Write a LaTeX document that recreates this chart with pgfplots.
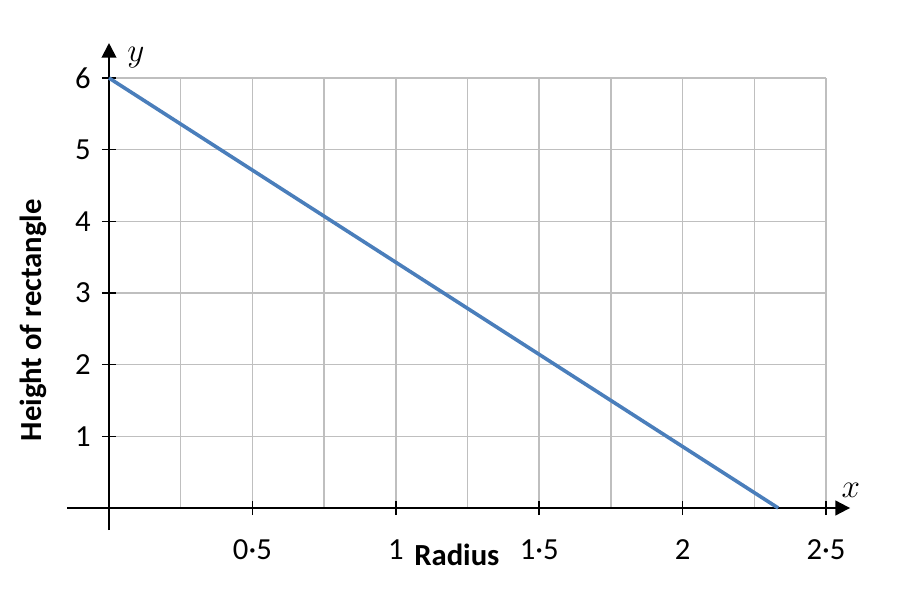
\documentclass[border=0pt]{standalone}
\usepackage{pgfplots}
\pgfplotsset{compat=1.18}
\usepackage{fontspec}
\setmainfont{Carlito}
\usetikzlibrary{arrows.meta}

\definecolor{lineblue}{RGB}{74,126,187}
\definecolor{gridgray}{RGB}{191,191,191}

\begin{document}
\begin{tikzpicture}
  % whole picture: 914 x 610 px at 0.75pt per px, axis box corner at origin
  \useasboundingbox (-81.75pt,-76.5pt) rectangle (603.75pt,381pt);
  \begin{axis}[
      at={(0,0)}, anchor=south west,
      scale only axis,
      width=537.75pt, height=322.5pt,
      xmin=0, xmax=2.5, ymin=0, ymax=6,
      clip=false,
      axis line style={draw=none},
      xtick={0.5,1,1.5,2,2.5},
      xticklabels={0·5,1,1·5,2,2·5},
      minor xtick={0.25,0.75,1.25,1.75,2.25},
      ytick={1,2,3,4,5,6},
      yticklabels={1,2,3,4,5,6},
      xtick pos=bottom, ytick pos=left,
      tick align=center,
      major tick length=10.5pt,
      minor tick length=0pt,
      tick style={black, line width=1.1pt},
      grid=both,
      major grid style={gridgray, line width=1.1pt},
      minor grid style={gridgray, line width=1.1pt},
      tick label style={font=\fontsize{23}{27}\selectfont, text=black},
      xticklabel style={anchor=center, yshift=-26pt},
      yticklabel style={anchor=east, xshift=-5pt},
    ]
    % axes with arrows
    \draw[black, line width=1.5pt, -{Triangle[length=11pt,width=11pt]}]
      (axis cs:-0.1464,0) -- (axis cs:2.584,0);
    \draw[black, line width=1.5pt, -{Triangle[length=11pt,width=11pt]}]
      (axis cs:0,-0.307) -- (axis cs:0,6.488);

    \addplot[lineblue, line width=2.7pt] coordinates {
      (0,6)
      (2.3333,0)
    };

    \node[font=\fontsize{24}{28}\selectfont] at (axis cs:2.587,0.251) {$x$};
    \node[font=\fontsize{24}{28}\selectfont] at (axis cs:0.094,6.29) {$y$};
    \node[font=\fontsize{23}{27}\selectfont\bfseries]
      at (axis cs:1.213,-0.656) {Radius};
    \node[font=\fontsize{23}{27}\selectfont\bfseries, rotate=90]
      at (axis cs:-0.265,2.62) {Height of rectangle};
  \end{axis}
\end{tikzpicture}
\end{document}
